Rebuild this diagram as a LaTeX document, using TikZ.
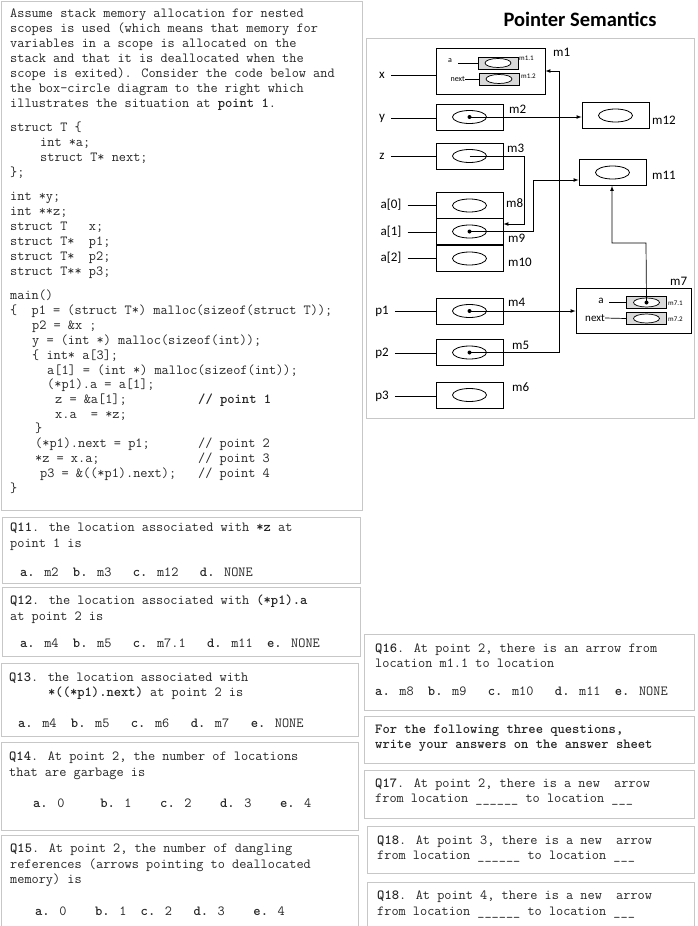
\documentclass[tikz,border=0pt]{standalone}
\usepackage{fontspec}
\usetikzlibrary{shapes.geometric}
\setmainfont{Carlito}
\begin{document}
\begin{tikzpicture}[x=1pt,y=-1pt,
  frame/.style={draw=black!22,line width=0.8pt},
  t/.style={anchor=base west,inner sep=0,font=\ttfamily\fontsize{13.9}{15}\selectfont,text=black!85},
  lab/.style={inner sep=0,font=\fontsize{13}{14}\selectfont},
  sm/.style={inner sep=0,anchor=west,font=\fontsize{7}{8}\selectfont},
  box/.style={draw,line width=0.8pt,minimum width=67pt,minimum height=26pt,inner sep=0},
  ibox/.style={draw,fill=black!15,line width=0.7pt,minimum width=40pt,minimum height=12pt,inner sep=0},
  ell/.style={draw,ellipse,line width=0.8pt,minimum width=34pt,minimum height=13pt,inner sep=0},
  iell/.style={draw,ellipse,fill=white,line width=0.7pt,minimum width=26pt,minimum height=9pt,inner sep=0},
  dot/.style={circle,fill,inner sep=0,minimum size=4pt},
  ln/.style={line width=0.7pt},
  arr/.style={line width=0.7pt,-latex}]
\useasboundingbox (0,0) rectangle (698,926);
\fill[white] (0,0) rectangle (698,926);
% ---------- left text panel
\draw[frame] (1,1) rectangle (362,510);
\foreach \yy/\s in {17/{Assume stack memory allocation for nested},
 32/{scopes is used (which means that memory for},
 47/{variables in a scope is allocated on the},
 62/{stack and that it is deallocated when the},
 77/{scope is exited). Consider the code below and},
 92/{the box-circle diagram to the right which},
 107/{illustrates the situation at \textbf{point 1}.},
 131/{struct T \{}, 176/{\};},
 200/{int *y;}, 215/{int **z;}, 230/{struct T~~~x;}, 245/{struct T*~~p1;},
 260/{struct T*~~p2;}, 275/{struct T**~p3;},
 299/{main()}, 314/{\{~~p1 = (struct T*) malloc(sizeof(struct T));}, 492/{\}}}
 \node[t] (tx\yy) at (10,\yy) {\s};
\foreach \xx/\yy/\s in {40/146/{int *a;}, 40/161/{struct T* next;},
 32/329/{p2 = \&x ;}, 32/344/{y = (int *) malloc(sizeof(int));}, 32/359/{\{ int* a[3];},
 47/374/{a[1] = (int *) malloc(sizeof(int));}, 47/388/{(*p1).a = a[1];},
 55/403/{z = \&a[1];}, 55/418/{x.a~~= *z;}, 35/432/{\}},
 35/447/{(*p1).next = p1;}, 35/462/{*z = x.a;}, 40/477/{p3 = \&((*p1).next);},
 198/403/{\textbf{// point 1}}, 198/447/{// point 2}, 198/462/{// point 3}, 198/477/{// point 4}}
 \node[t] (tc\yy\xx) at (\xx,\yy) {\s};
% ---------- questions left
\draw[frame] (2,517) rectangle (360,583);
\node[t] (q11a) at (10,531) {\textbf{Q11}. the location associated with \textbf{*z} at};
\node[t] (q11b) at (10,547) {point 1 is};
\node[t] (q11c) at (20,576) {\textbf{a.} m2~~\textbf{b.} m3~~~\textbf{c.} m12~~~\textbf{d.} NONE};
\draw[frame] (2,587) rectangle (360,656);
\node[t] (q12a) at (10,604) {\textbf{Q12}. the location associated with \textbf{(*p1).a}};
\node[t] (q12b) at (10,620) {at point 2 is};
\node[t] (q12c) at (20,647) {\textbf{a.} m4~~\textbf{b.} m5~~~\textbf{c.} m7.1~~~\textbf{d.} m11~~\textbf{e.} NONE};
\draw[frame] (1,663) rectangle (358,736);
\node[t] (q13a) at (9,681) {\textbf{Q13}. the location associated with};
\node[t] (q13b) at (48,696) {\textbf{*((*p1).next)} at point 2 is};
\node[t] (q13c) at (18,727) {\textbf{a.} m4~~\textbf{b.} m5~~~\textbf{c.} m6~~~\textbf{d.} m7~~~\textbf{e.} NONE};
\draw[frame] (1,742) rectangle (358,830);
\node[t] (q14a) at (9,760) {\textbf{Q14}. At point 2, the number of locations};
\node[t] (q14b) at (9,776) {that are garbage is};
\node[t] (q14c) at (33,807) {\textbf{a.} 0~~~~~\textbf{b.} 1~~~~\textbf{c.} 2~~~~\textbf{d.} 3~~~~\textbf{e.} 4};
\draw[frame] (1,835) rectangle (358,926);
\node[t] (q15a) at (10,852) {\textbf{Q15}. At point 2, the number of dangling};
\node[t] (q15b) at (10,868) {references (arrows pointing to deallocated};
\node[t] (q15c) at (10,883) {memory) is};
\node[t] (q15d) at (35,915) {\textbf{a.} 0~~~~\textbf{b.} 1~~\textbf{c.} 2~~~\textbf{d.} 3~~~~\textbf{e.} 4};
% ---------- questions right
\draw[frame] (364,634) rectangle (694,710);
\node[t] (q16a) at (375,652) {\textbf{Q16}. At point 2, there is an arrow from};
\node[t] (q16b) at (375,667) {location m1.1 to location};
\node[t] (q16c) at (375,695) {\textbf{a.} m8~~\textbf{b.} m9~~~\textbf{c.} m10~~~\textbf{d.} m11~~\textbf{e.} NONE};
\draw[frame] (364,716) rectangle (694,763);
\node[t] (fa) at (375,733) {\textbf{For the following three questions,}};
\node[t] (fb) at (375,748) {\textbf{write your answers on the answer sheet}};
\draw[frame] (364,770) rectangle (694,818);
\node[t] (q17a) at (375,787) {\textbf{Q17}. At point 2, there is a new~~arrow};
\node[t] (q17b) at (375,802) {from location \_\_\_\_\_\_ to location \_\_\_};
\draw[frame] (367,826) rectangle (694,873);
\node[t] (q18a) at (377,844) {\textbf{Q18}. At point 3, there is a new~~arrow};
\node[t] (q18b) at (377,859) {from location \_\_\_\_\_\_ to location \_\_\_};
\draw[frame] (367,882) rectangle (694,926);
\node[t] (q19a) at (377,899) {\textbf{Q18}. At point 4, there is a new~~arrow};
\node[t] (q19b) at (377,915) {from location \_\_\_\_\_\_ to location \_\_\_};
% ---------- diagram
\node[inner sep=0,font=\bfseries\fontsize{20.5}{22}\selectfont] (title) at (580,19) {Pointer Semantics};
\draw[frame] (366,38) rectangle (694,418);
% m1
\node[box,minimum width=109pt,minimum height=46pt] (m1) at (490.5,71) {};
\node[lab,anchor=west] (lm1) at (553,52) {m1};
\node[ibox] (m11b) at (498,63) {}; \node[iell] (e11) at (m11b) {};
\node[ibox] (m12b) at (499,79) {}; \node[iell] (e12) at (m12b) {};
\node[inner sep=0,font=\fontsize{8}{9}\selectfont] (la) at (450,61) {a};
\node[inner sep=0,font=\fontsize{8}{9}\selectfont,anchor=east] (lnext) at (465,79) {next};
\node[sm] (l11) at (519,58) {m1.1}; \node[sm] (l12) at (521,76) {m1.2};
\draw[ln] (458,63) -- (m11b.west); \draw[ln] (lnext.east) -- (m12b.west);
% stack boxes
\foreach \n/\yy in {m2/117,m3/156,m8/205.5,m9/231.5,m10/258.5,m4/311,m5/352.5,m6/395}
 { \node[box] (\n) at (469.5,\yy) {}; \node[ell] (e\n) at (\n) {}; }
\node[box] (m12) at (615.5,115.5) {}; \node[ell] (em12) at (m12) {};
\node[box] (m11) at (612.5,172.5) {}; \node[ell] (em11) at (m11) {};
\foreach \n/\xx/\yy in {m2/509/109,m3/507/148,m8/506/203,m9/508/238,m10/508/262,m4/508/302,m5/512/345,m6/512/387,m12/652/120,m11/652/175}
 \node[lab,anchor=west] (l\n) at (\xx,\yy) {\n};
% variable labels
\foreach \v/\s/\xx/\yy/\tgt in {vx/x/382/75/m1, vy/y/382/118/m2, vz/z/382/156/m3,
  va0/{a[0]}/391/205/m8, va1/{a[1]}/391/232/m9, va2/{a[2]}/391/258/m10,
  vp1/p1/382/311/m4, vp2/p2/382/353/m5, vp3/p3/382/396/m6}
 { \node[lab] (\v) at (\xx,\yy) {\s}; \draw[ln] ([xshift=6pt]\v.east) -- (\tgt.west |- \v); }
% m7
\node[box,minimum width=115pt,minimum height=45pt] (m7) at (633.5,310.5) {};
\node[lab,anchor=west] (lm7) at (670,281) {m7};
\node[ibox] (m71b) at (646.5,302.5) {}; \node[iell] (e71) at (m71b) {};
\node[ibox] (m72b) at (646.5,318.5) {}; \node[iell] (e72) at (m72b) {};
\node[lab,font=\fontsize{11}{12}\selectfont] (l7a) at (601,301) {a};
\node[lab,font=\fontsize{11}{12}\selectfont,anchor=east] (l7n) at (605,318) {next};
\node[sm] (l71) at (668,303) {m7.1}; \node[sm] (l72) at (668,319) {m7.2};
\draw[ln] (609,302.5) -- (m71b.west); \draw[ln] (l7n.east) -- (m72b.west);
% dots
\node[dot] (d2) at (em2) {}; \node[dot] (d9) at (em9) {};
\node[dot] (d4) at (em4) {}; \node[dot] (d5) at (em5) {};
\node[dot] (d71) at (e71) {};
\coordinate (c3) at (em3.center);
% arrows
\draw[arr] (d2.center) -- (m12.west |- d2);
\draw[arr] (c3) -- (524,156) -- (524,224) -- (m9.east |- 0,224);
\draw[arr] (d9.center) -- (533,231.5) -- (533,180) -- (m11.west |- 0,180);
\draw[arr] (d71.center) -- (646,243) -- (612,243) -- (m11.south -| 612,0);
\draw[arr] (d4.center) -- (m7.west |- d4);
\draw[arr] (d5.center) -- (559,352.5) -- (559,71) -- (m1.east |- 0,71);
\end{tikzpicture}
\end{document}
